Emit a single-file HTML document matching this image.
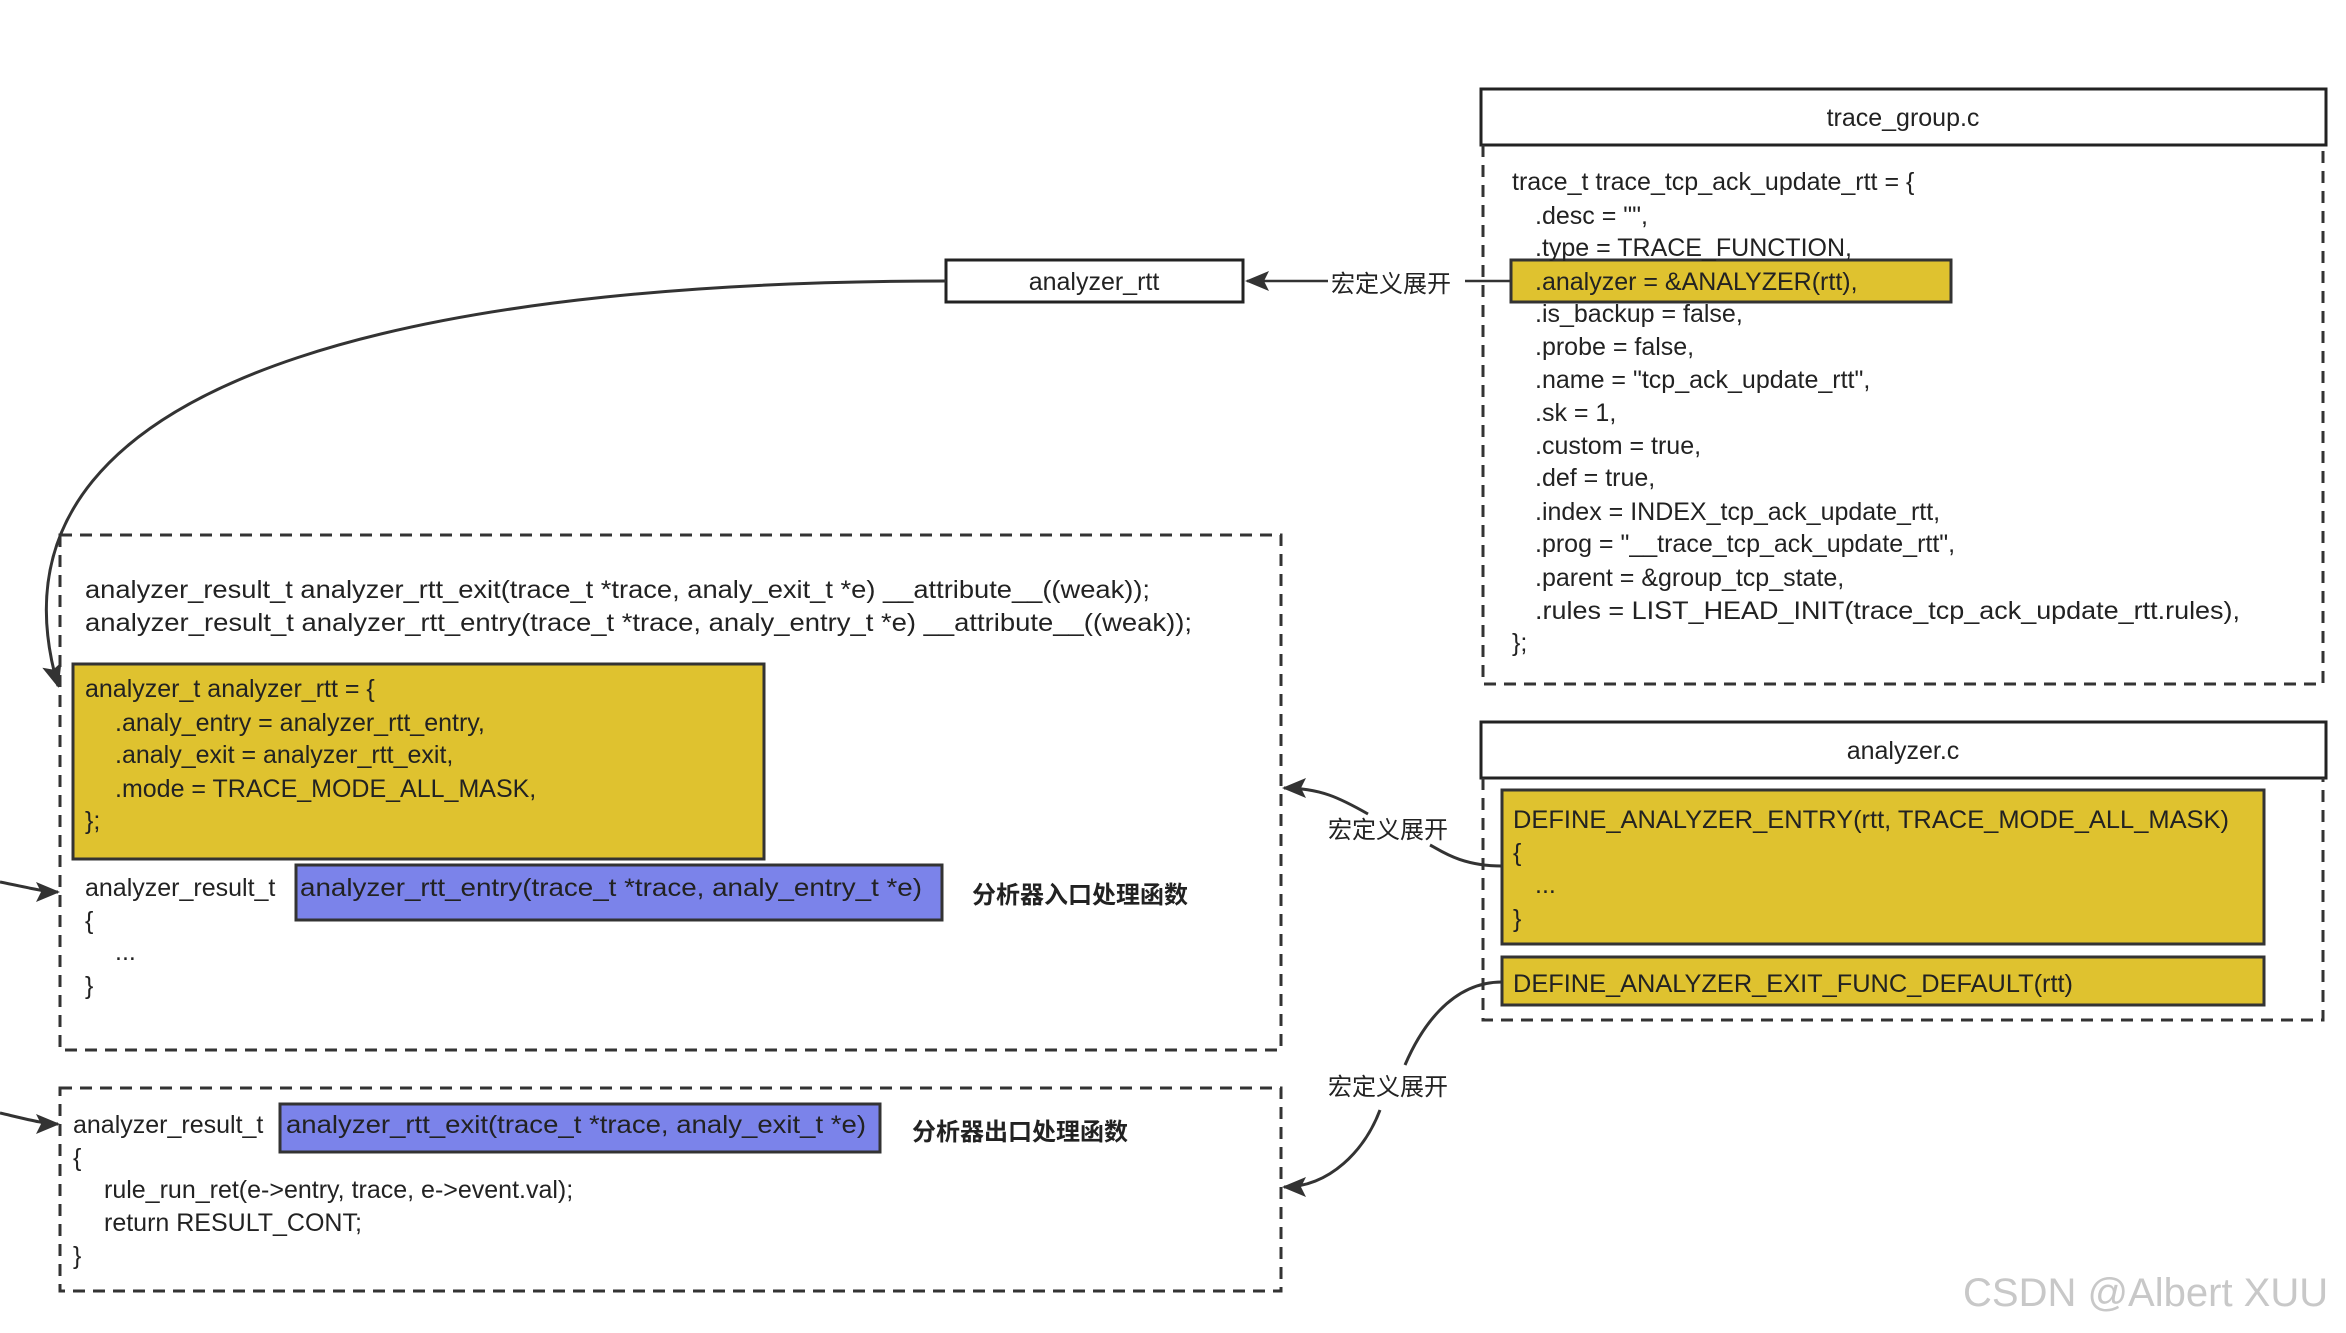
<!DOCTYPE html>
<html><head><meta charset="utf-8"><style>
html,body{margin:0;padding:0;background:#fff;}
svg{display:block}
text{font-family:"Liberation Sans","Noto Sans CJK SC",sans-serif;font-size:25px;fill:#222;}
.cn{font-family:"Noto Sans CJK SC","WenQuanYi Zen Hei",sans-serif;font-size:24px;}
.b{font-weight:bold;}
</style></head><body>
<svg width="2346" height="1333" viewBox="0 0 2346 1333" xmlns="http://www.w3.org/2000/svg">
<defs><marker id="a" markerWidth="12" markerHeight="12" refX="10" refY="6" orient="auto" markerUnits="userSpaceOnUse"><path d="M0,0 L12,6 L0,12 Z" fill="#333"/></marker>
<marker id="a2" markerWidth="24" markerHeight="20" refX="22" refY="10" orient="auto" markerUnits="userSpaceOnUse"><path d="M0,0 L24,10 L0,20 L5,10 Z" fill="#333"/></marker></defs>

<!-- trace_group.c -->
<rect x="1481" y="89" width="845" height="56" fill="#fff" stroke="#222" stroke-width="3"/>
<text x="1903" y="126" text-anchor="middle">trace_group.c</text>
<path d="M1483,145 V684 H2323 V145" fill="none" stroke="#333" stroke-width="3" stroke-dasharray="12,8"/>
<rect x="1511" y="260" width="440" height="42" fill="#dfc22f" stroke="#333" stroke-width="3"/>
<g>
<text x="1512" y="190">trace_t trace_tcp_ack_update_rtt = {</text>
<text x="1535" y="224">.desc = "",</text>
<text x="1535" y="256">.type = TRACE_FUNCTION,</text>
<text x="1535" y="290">.analyzer = &amp;ANALYZER(rtt),</text>
<text x="1535" y="322">.is_backup = false,</text>
<text x="1535" y="355">.probe = false,</text>
<text x="1535" y="388">.name = "tcp_ack_update_rtt",</text>
<text x="1535" y="421">.sk = 1,</text>
<text x="1535" y="454">.custom = true,</text>
<text x="1535" y="486">.def = true,</text>
<text x="1535" y="520">.index = INDEX_tcp_ack_update_rtt,</text>
<text x="1535" y="552">.prog = "__trace_tcp_ack_update_rtt",</text>
<text x="1535" y="586">.parent = &amp;group_tcp_state,</text>
<text x="1535" y="619" textLength="705" lengthAdjust="spacingAndGlyphs">.rules = LIST_HEAD_INIT(trace_tcp_ack_update_rtt.rules),</text>
<text x="1512" y="651">};</text>
</g>

<!-- analyzer_rtt box -->
<rect x="946" y="260" width="297" height="42" fill="#fff" stroke="#222" stroke-width="3"/>
<text x="1094" y="290" text-anchor="middle">analyzer_rtt</text>
<line x1="1511" y1="281" x2="1465" y2="281" stroke="#333" stroke-width="2.5"/>
<line x1="1328" y1="281" x2="1247" y2="281" stroke="#333" stroke-width="2.5" marker-end="url(#a2)"/>
<text class="cn" x="1331" y="292">宏定义展开</text>
<path d="M946,281 C500,281 -40,350 58,686" fill="none" stroke="#333" stroke-width="3" marker-end="url(#a2)"/>

<!-- box 1 -->
<rect x="60" y="535" width="1221" height="515" fill="none" stroke="#333" stroke-width="3" stroke-dasharray="12,8"/>
<text x="85" y="598" textLength="1065" lengthAdjust="spacingAndGlyphs">analyzer_result_t analyzer_rtt_exit(trace_t *trace, analy_exit_t *e) __attribute__((weak));</text>
<text x="85" y="631" textLength="1107" lengthAdjust="spacingAndGlyphs">analyzer_result_t analyzer_rtt_entry(trace_t *trace, analy_entry_t *e) __attribute__((weak));</text>
<rect x="73" y="664" width="691" height="195" fill="#dfc22f" stroke="#333" stroke-width="3"/>
<text x="85" y="697">analyzer_t analyzer_rtt = {</text>
<text x="115" y="731">.analy_entry = analyzer_rtt_entry,</text>
<text x="115" y="763">.analy_exit = analyzer_rtt_exit,</text>
<text x="115" y="797">.mode = TRACE_MODE_ALL_MASK,</text>
<text x="85" y="829">};</text>
<rect x="296" y="865" width="646" height="55" fill="#7b83ea" stroke="#333" stroke-width="3"/>
<text x="85" y="896">analyzer_result_t</text>
<text x="300" y="896" textLength="622" lengthAdjust="spacingAndGlyphs">analyzer_rtt_entry(trace_t *trace, analy_entry_t *e)</text>
<text class="cn b" x="972" y="903">分析器入口处理函数</text>
<text x="85" y="929">{</text>
<text x="115" y="960">...</text>
<text x="85" y="994">}</text>
<path d="M0,882 C30,888 45,892 58,892" fill="none" stroke="#333" stroke-width="3" marker-end="url(#a2)"/>

<!-- box 2 -->
<rect x="60" y="1088" width="1221" height="203" fill="none" stroke="#333" stroke-width="3" stroke-dasharray="12,8"/>
<rect x="280" y="1104" width="600" height="48" fill="#7b83ea" stroke="#333" stroke-width="3"/>
<text x="73" y="1133">analyzer_result_t</text>
<text x="286" y="1133" textLength="580" lengthAdjust="spacingAndGlyphs">analyzer_rtt_exit(trace_t *trace, analy_exit_t *e)</text>
<text class="cn b" x="912" y="1140">分析器出口处理函数</text>
<text x="73" y="1166">{</text>
<text x="104" y="1198">rule_run_ret(e-&gt;entry, trace, e-&gt;event.val);</text>
<text x="104" y="1231">return RESULT_CONT;</text>
<text x="73" y="1264">}</text>
<path d="M0,1113 C30,1120 45,1124 58,1124" fill="none" stroke="#333" stroke-width="3" marker-end="url(#a2)"/>

<!-- analyzer.c -->
<rect x="1481" y="722" width="845" height="56" fill="#fff" stroke="#222" stroke-width="3"/>
<text x="1903" y="759" text-anchor="middle">analyzer.c</text>
<path d="M1483,778 V1020 H2323 V778" fill="none" stroke="#333" stroke-width="3" stroke-dasharray="12,8"/>
<rect x="1502" y="790" width="762" height="154" fill="#dfc22f" stroke="#333" stroke-width="3"/>
<text x="1513" y="828" textLength="716" lengthAdjust="spacingAndGlyphs">DEFINE_ANALYZER_ENTRY(rtt, TRACE_MODE_ALL_MASK)</text>
<text x="1513" y="861">{</text>
<text x="1535" y="893">...</text>
<text x="1513" y="927">}</text>
<rect x="1502" y="957" width="762" height="48" fill="#dfc22f" stroke="#333" stroke-width="3"/>
<text x="1513" y="992" textLength="560" lengthAdjust="spacingAndGlyphs">DEFINE_ANALYZER_EXIT_FUNC_DEFAULT(rtt)</text>

<path d="M1502,866 C1460,866 1440,850 1430,845" fill="none" stroke="#333" stroke-width="3"/>
<path d="M1368,814 C1340,798 1320,788 1284,788" fill="none" stroke="#333" stroke-width="3" marker-end="url(#a2)"/>
<text class="cn" x="1328" y="838">宏定义展开</text>
<path d="M1502,982 C1450,982 1420,1030 1405,1065" fill="none" stroke="#333" stroke-width="3"/>
<path d="M1380,1110 C1365,1150 1330,1187 1284,1187" fill="none" stroke="#333" stroke-width="3" marker-end="url(#a2)"/>
<text class="cn" x="1328" y="1095">宏定义展开</text>

<text x="1963" y="1306" style="font-size:40px;fill:#c8c8c8;">CSDN @Albert XUU</text>
</svg>
</body></html>
